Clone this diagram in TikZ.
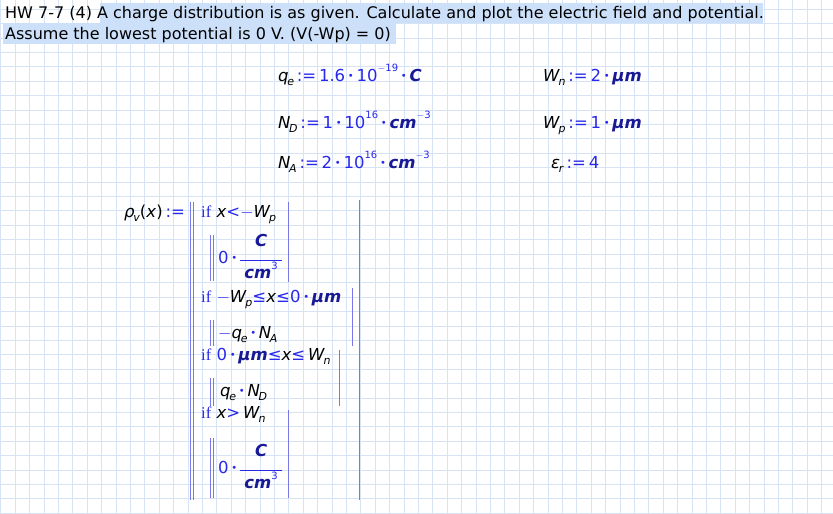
\documentclass[tikz,border=0pt]{standalone}
\usepackage{fontspec}
\setmainfont{DejaVu Sans}
\newfontfamily\iffont{Liberation Serif}
\definecolor{gridc}{RGB}{214,228,246}
\definecolor{hl}{RGB}{204,224,250}
\definecolor{B}{RGB}{40,40,235}
\definecolor{U}{RGB}{25,25,150}
\definecolor{barc}{RGB}{120,120,230}
\newcommand\vr[2]{{\color{black}\textit{#1}\kern-0.08em\raisebox{-0.3em}{\fontsize{11}{11}\selectfont\textit{#2}}}}
\newcommand\dt{\,\raisebox{0.12em}{\fontsize{10}{10}\selectfont•}\,}
\newcommand\un[1]{{\color{U}\bfseries\itshape #1}}
\newcommand\sps[1]{\raisebox{0.55em}{\fontsize{10}{10}\selectfont #1}}
\newcommand\as{\,{\color{B}:=}\,}
\newcommand\kwif{{\iffont if}}
\newcommand\zfrac{0\dt\begin{tabular}{@{}c@{}}\un{C}\\[-3pt]\rule{42pt}{0.5pt}\\[-3pt]\un{cm}\sps{3}\end{tabular}}
\begin{document}
\begin{tikzpicture}[x=1pt,y=-1pt,
  eq/.style={anchor=base west,inner sep=0pt,font=\fontsize{16.5}{16.5}\selectfont,text=B},
  bar/.style={draw=barc,line width=0.6pt}]
\useasboundingbox (0,0) rectangle (833,514);
\fill[white] (0,0) rectangle (833,514);
\foreach \i in {0,...,57} {\draw[gridc,line width=0.5pt] (0.6+14.4*\i,0) -- (0.6+14.4*\i,514);}
\foreach \i in {0,...,35} {\draw[gridc,line width=0.5pt] (0,9+14.4*\i) -- (833,9+14.4*\i);}
\fill[hl] (100,3) rectangle (763,23);
\fill[hl] (3,23) rectangle (396,44);
\node[anchor=base west,inner sep=0pt,font=\fontsize{16}{16}\selectfont] (t1) at (5,18) {HW 7-7 (4) A charge distribution is as given. Calculate and plot the electric field and potential.};
\node[anchor=base west,inner sep=0pt,font=\fontsize{16}{16}\selectfont] (t2) at (5,39) {Assume the lowest potential is 0 V. (V(-Wp) = 0)};
\node[eq] (qe) at (278,81) {\vr{q}{e}\as1.6\dt10\sps{$-$19}\dt\un{C}};
\node[eq] (nd) at (278,128) {\vr{N}{D}\as1\dt10\sps{16}\dt\un{cm}\sps{$-$3}};
\node[eq] (na) at (278,168) {\vr{N}{A}\as2\dt10\sps{16}\dt\un{cm}\sps{$-$3}};
\node[eq] (wn) at (543,81) {\vr{W}{n}\as2\dt\un{μm}};
\node[eq] (wp) at (543,128) {\vr{W}{p}\as1\dt\un{μm}};
\node[eq] (er) at (551,168) {\vr{ε}{r}\as4};
\node[eq] (rho) at (124,217) {\vr{ρ}{v}\textcolor{black}{(\textit{x})}\as};
% bars
\draw[bar] (190,202) -- (190,500); \draw[bar] (193.5,202) -- (193.5,500);
\draw[bar] (359,200) -- (359,500);
\node[eq] (if1) at (201,217) {\kwif{} \textcolor{black}{\textit{x}}<$-$\vr{W}{p}};
\draw[bar] (288,202) -- (288,282);
\draw[bar] (210,235) -- (210,281); \draw[bar] (213,235) -- (213,281);
\node[eq,anchor=west] (v1) at (218,259) {\zfrac};
\node[eq] (if2) at (201,302) {\kwif{} $-$\vr{W}{p}≤\textcolor{black}{\textit{x}}≤0\dt\un{μm}};
\draw[bar] (352,288) -- (352,346);
\draw[bar] (210,320) -- (210,346); \draw[bar] (213,320) -- (213,346);
\node[eq] (v2) at (218,338) {$-$\vr{q}{e}\dt\vr{N}{A}};
\node[eq] (if3) at (201,360) {\kwif{} 0\dt\un{μm}≤\textcolor{black}{\textit{x}}≤\,\vr{W}{n}};
\draw[bar] (339,350) -- (339,406);
\draw[bar] (210,378) -- (210,406); \draw[bar] (213,378) -- (213,406);
\node[eq] (v3) at (220,396) {\vr{q}{e}\dt\vr{N}{D}};
\node[eq] (if4) at (201,418) {\kwif{} \textcolor{black}{\textit{x}}>\,\vr{W}{n}};
\draw[bar] (288,410) -- (288,498);
\draw[bar] (210,438) -- (210,498); \draw[bar] (213,438) -- (213,498);
\node[eq,anchor=west] (v4) at (218,469) {\zfrac};
\end{tikzpicture}
\end{document}
